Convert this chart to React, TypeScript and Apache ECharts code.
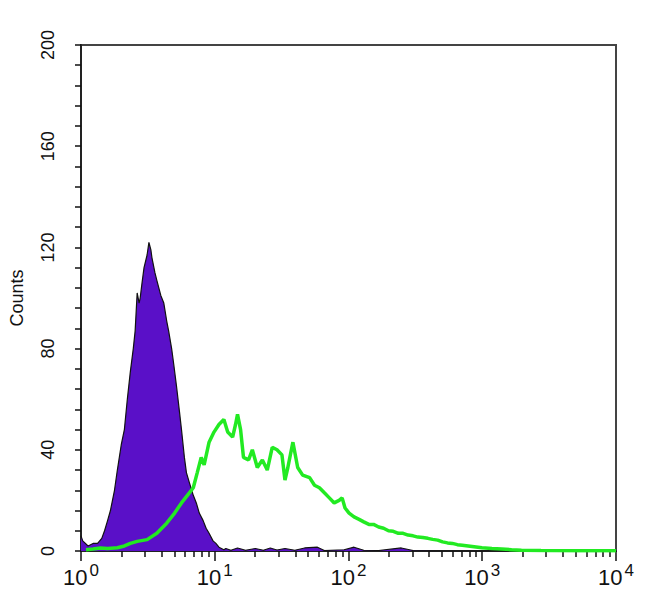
import React, { useEffect, useRef } from "react";
import * as echarts from "echarts";

// Fluorescence intensity (log scale) and counts
const purpleX = [1.0, 1.03, 1.13, 1.23, 1.33, 1.43, 1.5, 1.58, 1.66, 1.78, 1.87, 2.0, 2.11, 2.22, 2.34, 2.46, 2.54, 2.63, 2.72, 2.77, 2.86, 2.96, 3.12, 3.22, 3.33, 3.39, 3.57, 3.69, 3.95, 4.16, 4.37, 4.52, 4.76, 4.93, 5.18, 5.45, 5.64, 5.93, 6.14, 6.46, 6.91, 7.28, 7.66, 8.19, 8.62, 9.07, 9.71, 10.2, 10.75, 11.7, 12.1, 13.2, 14.8, 17.0, 20.1, 23.1, 26.0, 29.2, 33.5, 39.7, 47.0, 58.6, 66.0, 92.7, 110, 130, 168, 248, 304, 426, 10000];
const purpleCounts = [6, 4, 2, 3, 3, 5, 8, 12, 16, 24, 32, 42, 48, 60, 71, 80, 87, 102, 98, 100, 106, 112, 117, 122, 119, 116, 110, 107, 101, 98, 91, 87, 80, 74, 65, 55, 48, 37, 31, 27, 22, 19, 15, 12, 9, 7, 4, 3, 1.5, 0.5, 1, 0.3, 1.2, 0.3, 1, 0.3, 1.2, 0.4, 1, 0.3, 1.2, 1.5, 0.2, 0.5, 1.5, 0.3, 0.2, 1.2, 0.2, 0, 0];

const greenX = [1.09, 1.23, 1.4, 1.58, 1.87, 2.11, 2.34, 2.63, 3.12, 3.69, 4.37, 5.01, 5.64, 6.46, 6.91, 7.4, 7.92, 8.33, 9.07, 9.87, 10.75, 11.7, 12.5, 13.6, 14.3, 14.8, 15.6, 16.4, 17.9, 19.1, 20.8, 22.7, 24.7, 26.9, 29.2, 31.8, 33.5, 35.2, 38.4, 41.7, 45.4, 51.2, 55.7, 60.6, 66.0, 71.9, 78.2, 85.1, 89.6, 94.2, 101, 110, 120, 130, 142, 154, 168, 183, 199, 216, 236, 256, 279, 304, 330, 360, 392, 426, 464, 505, 550, 598, 652, 709, 840, 995, 1180, 1398, 1656, 1963, 2754, 5430, 10000];
const greenCounts = [0.5, 0.8, 1.2, 1.0, 1.3, 2, 3, 3.8, 4.5, 7, 11, 15, 19, 23, 25, 31, 37, 34, 43, 47, 50, 52, 47, 45, 50, 54, 48, 37, 36, 40, 33, 36, 32, 41, 40, 38, 28, 33, 43, 33, 30, 29, 26, 25, 23, 21, 19, 20, 21, 17, 15, 13.5, 12.5, 11.5, 10.5, 10.5, 9.5, 9, 8, 7.8, 7, 7, 6.3, 6, 5.5, 5.3, 5, 4.6, 4.3, 3.6, 3.2, 3, 2.5, 2.3, 1.8, 1.3, 1.0, 0.8, 0.5, 0.3, 0.2, 0.1, 0.1];

const xDecades = [1, 10, 100, 1000, 10000];
const xMinorTicks = [2, 3, 4, 5, 6, 7, 8, 9, 20, 30, 40, 50, 60, 70, 80, 90, 200, 300, 400, 500, 600, 700, 800, 900, 2000, 3000, 4000, 5000, 6000, 7000, 8000, 9000];
const yMin = 0;
const yMax = 200;
const yStep = 40;

const FONT = "'Liberation Sans', Arial, Helvetica, sans-serif";

export default function App() {
  const ref = useRef<HTMLDivElement>(null);
  useEffect(() => {
    if (!ref.current) return;
    const chart = echarts.init(ref.current, null, { renderer: "svg" });
    chart.setOption({
      animation: false,
      backgroundColor: "#ffffff",
      grid: {
        left: 73,
        top: 45,
        right: 34,
        bottom: 44,
        show: true,
        borderColor: "#444",
        borderWidth: 2,
        backgroundColor: "transparent",
      },
      xAxis: [
        {
          type: "log",
          logBase: 10,
          min: 1,
          max: 10000,
          position: "bottom",
          axisLine: { show: true, lineStyle: { color: "#222", width: 2 } },
          axisTick: { show: true, customValues: xDecades, length: 10, lineStyle: { color: "#111", width: 1.5 } },
          axisLabel: {
            customValues: xDecades,
            margin: 11,
            formatter: (v: number) => `{b|10}{s|${Math.round(Math.log10(v))}}`,
            rich: {
              b: { fontSize: 22, fontFamily: FONT, color: "#111", verticalAlign: "bottom", lineHeight: 26 },
              s: { fontSize: 17, fontFamily: FONT, color: "#111", verticalAlign: "top", lineHeight: 16, padding: [0, 0, 0, 2] },
            },
          },
          splitLine: { show: false },
          minorTick: { show: false },
        },
        {
          type: "log",
          logBase: 10,
          min: 1,
          max: 10000,
          position: "bottom",
          axisLine: { show: false },
          axisTick: { show: true, customValues: xMinorTicks, length: 6, lineStyle: { color: "#111", width: 1.5 } },
          axisLabel: { show: false },
          splitLine: { show: false },
        },
      ],
      yAxis: {
        type: "value",
        min: yMin,
        max: yMax,
        interval: yStep,
        name: "Counts",
        nameLocation: "middle",
        nameRotate: 90,
        nameGap: 55,
        nameTextStyle: { fontSize: 18, fontFamily: FONT, color: "#111" },
        axisLine: { show: true, lineStyle: { color: "#222", width: 2 } },
        axisTick: { show: true, length: 6, lineStyle: { color: "#111", width: 1.5 } },
        minorTick: { show: true, splitNumber: 5, length: 6, lineStyle: { color: "#111", width: 1.5 } },
        axisLabel: { rotate: 90, fontSize: 18, fontFamily: FONT, color: "#111", margin: 24 },
        splitLine: { show: false },
      },
      series: [
        {
          type: "line",
          xAxisIndex: 0,
          data: purpleX.map((x, i) => [x, purpleCounts[i]]),
          showSymbol: false,
          symbol: "none",
          lineStyle: { color: "#111", width: 1.2 },
          areaStyle: { color: "#5a10c8", opacity: 1 },
          z: 2,
        },
        {
          type: "line",
          xAxisIndex: 0,
          data: greenX.map((x, i) => [x, greenCounts[i]]),
          showSymbol: false,
          symbol: "none",
          lineStyle: { color: "#22ea22", width: 3.5 },
          z: 3,
        },
      ],
    });
    return () => chart.dispose();
  }, []);
  return (
    <div
      ref={ref}
      style={{ position: "absolute", left: 0, top: 0, width: 650, height: 595 }}
    />
  );
}
